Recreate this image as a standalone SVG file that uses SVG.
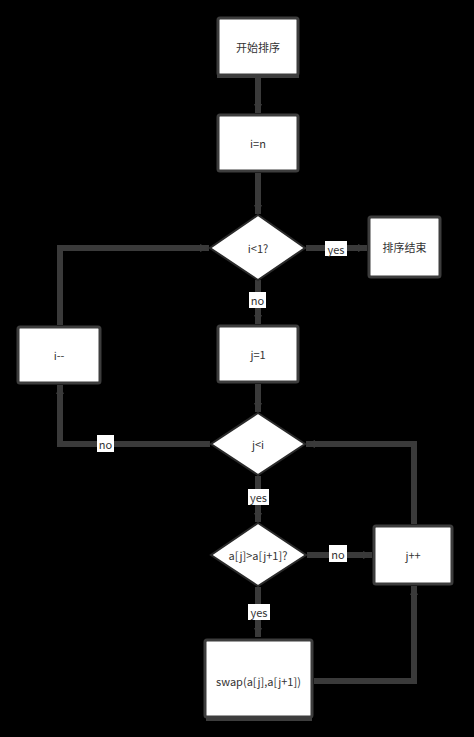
<svg xmlns="http://www.w3.org/2000/svg" width="474" height="737" viewBox="0 0 474 737">
<style>
.bg{fill:#000}
.box{fill:#fff;stroke:#3d3d3d;stroke-width:3}
.dia{fill:#fff;stroke:#2a2a2a;stroke-width:2}
.shadow{fill:#3d3d3d}
.t{font-family:"Noto Sans CJK SC","Noto Sans",sans-serif;font-size:11px;fill:#333;text-anchor:middle;dominant-baseline:central}
.c{fill:none;stroke:#3a3a3a;stroke-width:6}
.lb{fill:#fff}
.lt{font-family:"Noto Sans CJK SC","Noto Sans",sans-serif;font-size:11px;fill:#333;text-anchor:middle;dominant-baseline:central}
</style>
<defs>
<marker id="arr" markerUnits="userSpaceOnUse" markerWidth="10" markerHeight="10" refX="9" refY="5" orient="auto">
<path d="M0,1 L9,5 L0,9 z" fill="#3a3a3a"/>
</marker>
</defs>
<rect class="bg" x="0" y="0" width="474" height="737"/>
<g id="connectors">
<path class="c" d="M258,78 V113" marker-end="url(#arr)"/>
<path class="c" d="M258,173 V214" marker-end="url(#arr)"/>
<path class="c" d="M306,248 H367" marker-end="url(#arr)"/>
<path class="c" d="M258,280 V324" marker-end="url(#arr)"/>
<path class="c" d="M258,384 V412" marker-end="url(#arr)"/>
<path class="c" d="M258,476 V522" marker-end="url(#arr)"/>
<path class="c" d="M258,587 V637" marker-end="url(#arr)"/>
<path class="c" d="M307,555 H372" marker-end="url(#arr)"/>
<path class="c" d="M314,681 H414 V586" marker-end="url(#arr)"/>
<path class="c" d="M414,524 V444 H306" marker-end="url(#arr)"/>
<path class="c" d="M210,444 H60 V385" marker-end="url(#arr)"/>
<path class="c" d="M60,325 V248 H209" marker-end="url(#arr)"/>
<rect class="lb" x="325" y="241" width="22" height="15"/>
<text class="lt" x="336" y="248.5">yes</text>
<rect class="lb" x="249" y="292" width="17" height="16"/>
<text class="lt" x="257.5" y="300">no</text>
<rect class="lb" x="248" y="489" width="21" height="16"/>
<text class="lt" x="258.5" y="497">yes</text>
<rect class="lb" x="248" y="604" width="22" height="16"/>
<text class="lt" x="259" y="612">yes</text>
<rect class="lb" x="329" y="545" width="18" height="17"/>
<text class="lt" x="338" y="553.5">no</text>
<rect class="lb" x="97" y="435" width="17" height="17"/>
<text class="lt" x="105.5" y="443.5">no</text>
</g>
<g id="start">
<rect class="shadow" x="217" y="73" width="82" height="5"/>
<rect class="box" x="218" y="18" width="80" height="57" rx="2"/>
<text class="t" x="258" y="47">开始排序</text>
</g>
<g id="init">
<rect class="box" x="218" y="115" width="80" height="56" rx="2"/>
<text class="t" x="258" y="143">i=n</text>
</g>
<g id="cond1">
<polygon class="dia" points="258,215 305,248 258,280 210,248"/>
<text class="t" x="258" y="248">i&lt;1?</text>
</g>
<g id="end">
<rect class="box" x="369" y="217" width="71" height="60" rx="2"/>
<text class="t" x="404.5" y="247">排序结束</text>
</g>
<g id="j1">
<rect class="box" x="218" y="326" width="80" height="56" rx="2"/>
<text class="t" x="258" y="354">j=1</text>
</g>
<g id="idec">
<rect class="box" x="18" y="327" width="82" height="56" rx="2"/>
<text class="t" x="59" y="355">i--</text>
</g>
<g id="cond2">
<polygon class="dia" points="258,413 305,444 258,475 211,444"/>
<text class="t" x="258" y="444">j&lt;i</text>
</g>
<g id="cond3">
<polygon class="dia" points="258,523 306,555 258,586 211,555"/>
<text class="t" x="258" y="555">a[j]&gt;a[j+1]?</text>
</g>
<g id="jinc">
<rect class="box" x="374" y="526" width="78" height="58" rx="2"/>
<text class="t" x="413" y="555">j++</text>
</g>
<g id="swap">
<rect class="shadow" x="206" y="716" width="106" height="5"/>
<rect class="box" x="205" y="640" width="107" height="77" rx="2"/>
<text class="t" x="258.5" y="681">swap(a[j],a[j+1])</text>
</g>
</svg>
